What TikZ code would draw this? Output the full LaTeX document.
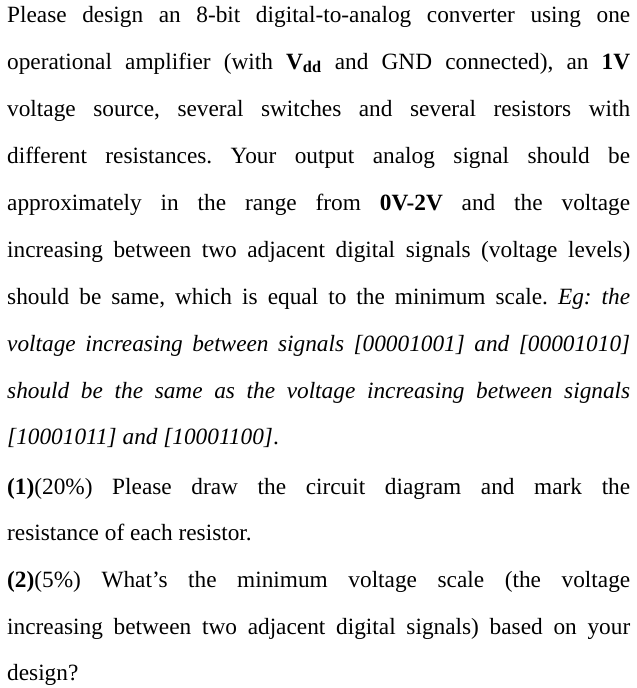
\documentclass[tikz,border=0pt]{standalone}
\usepackage{fontspec}
\setmainfont{Liberation Serif}
\frenchspacing
\begin{document}
\begin{tikzpicture}[x=1pt,y=-1pt,
  ln/.style={anchor=base west,inner sep=0,text width=623pt,font=\fontsize{23.3}{26}\selectfont,align=justify,execute at begin node={\parfillskip=0pt\relax}},
  lnl/.style={anchor=base west,inner sep=0,font=\fontsize{23.3}{26}\selectfont}]
\useasboundingbox (0,0) rectangle (637,688);
\node[ln] (l1) at (7,22) {Please design an 8-bit digital-to-analog converter using one};
\node[ln] (l2) at (7,69) {operational amplifier (with \textbf{V\textsubscript{dd}} and GND connected), an \textbf{1V}};
\node[ln] (l3) at (7,116) {voltage source, several switches and several resistors with};
\node[ln] (l4) at (7,163) {different resistances. Your output analog signal should be};
\node[ln] (l5) at (7,210) {approximately in the range from \textbf{0V-2V} and the voltage};
\node[ln] (l6) at (7,257) {increasing between two adjacent digital signals (voltage levels)};
\node[ln] (l7) at (7,304) {should be same, which is equal to the minimum scale. \textit{Eg: the}};
\node[ln] (l8) at (7,351) {\textit{voltage increasing between signals [00001001] and [00001010]}};
\node[ln] (l9) at (7,398) {\textit{should be the same as the voltage increasing between signals}};
\node[lnl] (l10) at (7,444) {\textit{[10001011] and [10001100]}.};
\node[ln] (l11) at (7,494) {\textbf{(1)}(20\%) Please draw the circuit diagram and mark the};
\node[lnl] (l12) at (7,540) {resistance of each resistor.};
\node[ln] (l13) at (7,587) {\textbf{(2)}(5\%) What's the minimum voltage scale (the voltage};
\node[ln] (l14) at (7,634) {increasing between two adjacent digital signals) based on your};
\node[lnl] (l15) at (7,680) {design?};
\end{tikzpicture}
\end{document}
